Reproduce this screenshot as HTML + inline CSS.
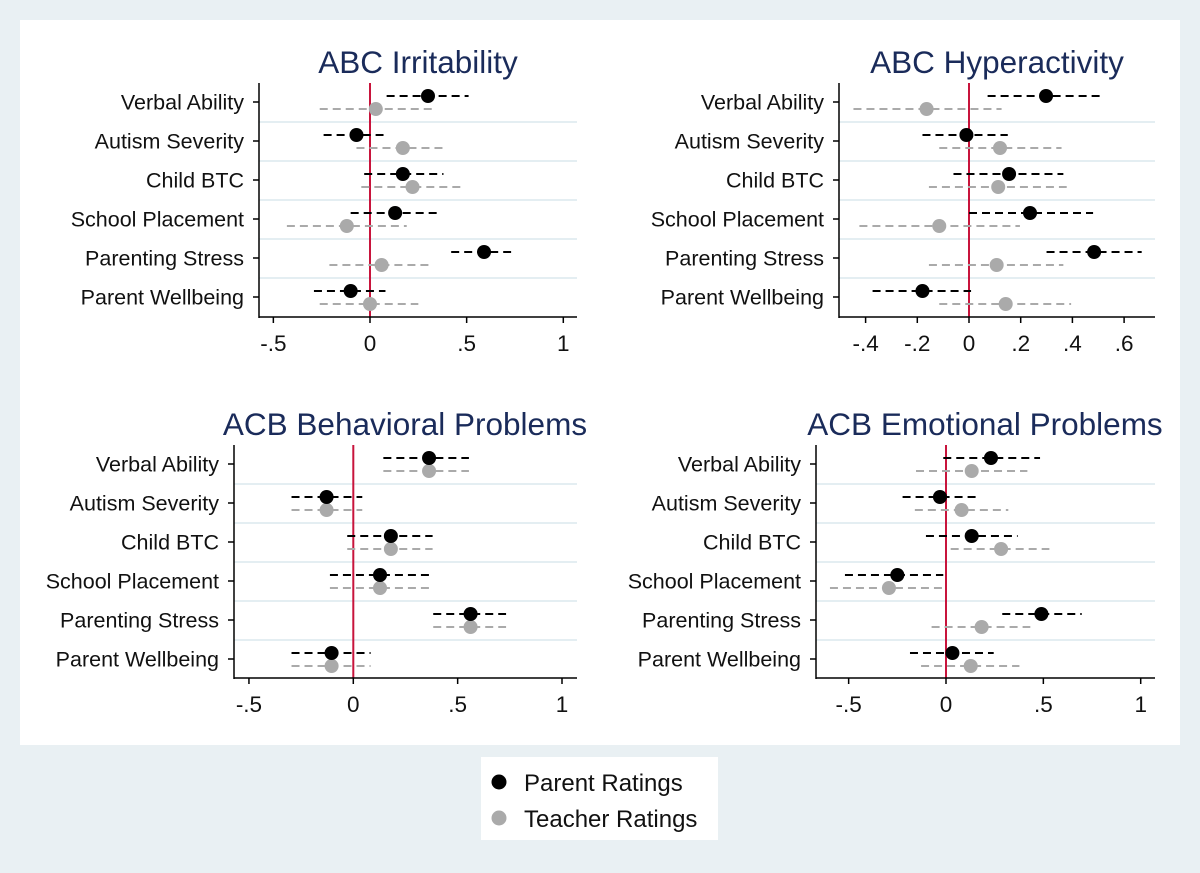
<!DOCTYPE html>
<html><head><meta charset="utf-8"><style>
body{margin:0;background:#e9f0f3;font-family:"Liberation Sans",Arial,sans-serif}
svg{display:block}
</style></head><body>
<svg id="c" width="1200" height="873" xmlns="http://www.w3.org/2000/svg">
<rect x="0" y="0" width="1200" height="873" fill="#e9f0f3"/>
<rect x="20" y="20" width="1160" height="725" fill="#fff"/>
<g>
<rect x="481" y="757" width="237" height="83" fill="#fff"/>
<circle cx="499" cy="782" r="7.5" fill="#000"/>
<text x="524" y="791" font-size="24" fill="#111">Parent Ratings</text>
<circle cx="499" cy="818" r="7.5" fill="#aaa"/>
<text x="524" y="827" font-size="24" fill="#111">Teacher Ratings</text>
</g>
</svg>
<script>
const categories=["Verbal Ability","Autism Severity","Child BTC","School Placement","Parenting Stress","Parent Wellbeing"];
const titles=["ABC Irritability","ABC Hyperactivity","ACB Behavioral Problems","ACB Emotional Problems"];
const irrParent=[0.30,-0.07,0.17,0.13,0.59,-0.10];
const irrParentLo=[0.086,-0.24,-0.03,-0.10,0.42,-0.29];
const irrParentHi=[0.51,0.07,0.38,0.35,0.73,0.08];
const irrTeacher=[0.03,0.17,0.22,-0.12,0.06,0.0];
const irrTeacherLo=[-0.26,-0.07,-0.045,-0.43,-0.21,-0.26];
const irrTeacherHi=[0.32,0.38,0.47,0.19,0.31,0.25];
const hypParent=[0.298,-0.01,0.155,0.236,0.484,-0.18];
const hypParentLo=[0.072,-0.18,-0.06,0.0,0.30,-0.373];
const hypParentHi=[0.507,0.15,0.365,0.48,0.668,0.008];
const hypTeacher=[-0.164,0.12,0.113,-0.115,0.107,0.142];
const hypTeacherLo=[-0.447,-0.115,-0.155,-0.424,-0.155,-0.115];
const hypTeacherHi=[0.126,0.358,0.378,0.197,0.365,0.395];
const behParent=[0.363,-0.128,0.18,0.128,0.562,-0.104];
const behParentLo=[0.144,-0.296,-0.029,-0.112,0.383,-0.296];
const behParentHi=[0.554,0.043,0.38,0.363,0.732,0.083];
const behTeacher=[0.363,-0.128,0.18,0.128,0.562,-0.104];
const behTeacherLo=[0.144,-0.296,-0.029,-0.112,0.383,-0.296];
const behTeacherHi=[0.554,0.043,0.38,0.363,0.732,0.083];
const emoParent=[0.231,-0.031,0.132,-0.25,0.49,0.033];
const emoParentLo=[-0.014,-0.223,-0.103,-0.519,0.289,-0.185];
const emoParentHi=[0.483,0.152,0.368,-0.014,0.697,0.245];
const emoTeacher=[0.132,0.08,0.283,-0.293,0.183,0.127];
const emoTeacherLo=[-0.154,-0.16,0.024,-0.596,-0.074,-0.128];
const emoTeacherHi=[0.418,0.32,0.531,-0.019,0.433,0.377];
const ticksAB=[-0.5,0,0.5,1];
const ticksAB_labels=["-.5","0",".5","1"];
const ticksHyp=[-0.4,-0.2,0,0.2,0.4,0.6];
const ticksHyp_labels=["-.4","-.2","0",".2",".4",".6"];

const NS="http://www.w3.org/2000/svg";
const svg=document.getElementById('c');
function mk(tag,attrs,parent){const e=document.createElementNS(NS,tag);for(const k in attrs)e.setAttribute(k,attrs[k]);(parent||svg).appendChild(e);return e;}

const panels=[
 {title:titles[0],tx:418,ty:73,left:259,right:577,top:83,bottom:317,zero:370,unit:193.3,y0:102,ticks:ticksAB,tl:ticksAB_labels,p:[irrParent,irrParentLo,irrParentHi],t:[irrTeacher,irrTeacherLo,irrTeacherHi]},
 {title:titles[1],tx:997,ty:73,left:839,right:1155,top:83,bottom:317,zero:969,unit:258.5,y0:102,ticks:ticksHyp,tl:ticksHyp_labels,p:[hypParent,hypParentLo,hypParentHi],t:[hypTeacher,hypTeacherLo,hypTeacherHi]},
 {title:titles[2],tx:405,ty:435,left:234,right:577,top:445,bottom:678,zero:353.3,unit:208.7,y0:464,ticks:ticksAB,tl:ticksAB_labels,p:[behParent,behParentLo,behParentHi],t:[behTeacher,behTeacherLo,behTeacherHi]},
 {title:titles[3],tx:985,ty:435,left:816,right:1155,top:445,bottom:678,zero:946,unit:194.7,y0:464,ticks:ticksAB,tl:ticksAB_labels,p:[emoParent,emoParentLo,emoParentHi],t:[emoTeacher,emoTeacherLo,emoTeacherHi]}
];
const step=39;
panels.forEach((P,pi)=>{
 const g=mk('g',{});
 
 
 const x=v=>P.zero+v*P.unit;
 const yc=i=>P.y0+i*step;
 const t=mk('text',{x:P.tx,y:P.ty,'font-size':31.5,fill:'#1a2b5a','text-anchor':'middle'},g);
 t.textContent=P.title;
 
 
 for(let i=0;i<categories.length-1;i++){
  const gl=mk('line',{x1:P.left,x2:P.right,y1:yc(i)+20,y2:yc(i)+20,stroke:'#e4eef2','stroke-width':2},g);
  
  
 }
 const zl=mk('line',{x1:x(0),x2:x(0),y1:P.top,y2:P.bottom,stroke:'#c8143c','stroke-width':2},g);
 
 
 const ya=mk('line',{x1:P.left,x2:P.left,y1:P.top,y2:P.bottom+1,stroke:'#000','stroke-width':1.5},g);
 
 
 const xa=mk('line',{x1:P.left,x2:P.right,y1:P.bottom,y2:P.bottom,stroke:'#000','stroke-width':1.5},g);
 
 
 categories.forEach((c,i)=>{
  const tk=mk('line',{x1:P.left-6,x2:P.left,y1:yc(i),y2:yc(i),stroke:'#000','stroke-width':1.5},g);
  
  
  const lb=mk('text',{x:P.left-15,y:yc(i)+7.5,'font-size':21.5,fill:'#111','text-anchor':'end'},g);
  lb.textContent=c;
  
  
 });
 P.ticks.forEach((v,i)=>{
  const tk=mk('line',{x1:x(v),x2:x(v),y1:P.bottom,y2:P.bottom+6,stroke:'#000','stroke-width':1.5},g);
  
  
  const lb=mk('text',{x:x(v),y:P.bottom+34,'font-size':22.5,fill:'#111','text-anchor':'middle'},g);
  lb.textContent=P.tl[i];
  
  
 });
 [[P.t,'#aaa',7,'teacher'],[P.p,'#000',-6,'parent']].forEach(([S,col,off,nm])=>{
  categories.forEach((c,i)=>{
   const y=yc(i)+off;
   const ci=mk('line',{x1:x(S[1][i]),x2:x(S[2][i]),y1:y,y2:y,stroke:col,'stroke-width':2,'stroke-dasharray':'8,5'},g);
   
   
   const d=mk('circle',{cx:x(S[0][i]),cy:y,r:7,fill:col},g);
   
   
  });
 });
});
</script>
</body></html>
